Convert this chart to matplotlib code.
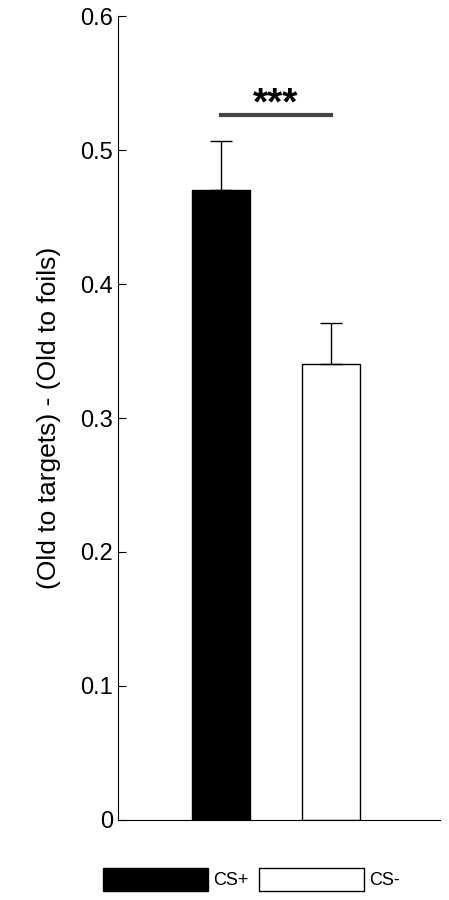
import matplotlib
matplotlib.use("Agg")
import matplotlib.pyplot as plt
from matplotlib.patches import Patch

plt.rcParams["font.family"] = ["Liberation Sans", "DejaVu Sans"]

# ---- Data ----
conditions = ["CS+", "CS-"]
means      = [0.47, 0.34]
errors     = [0.037, 0.031]
colors     = ["black", "white"]
positions  = [0.32, 0.66]
yticks     = [0, 0.1, 0.2, 0.3, 0.4, 0.5, 0.6]

fig = plt.figure(figsize=(4.49, 9.0), dpi=100)
ax = fig.add_axes([0.263, 0.089, 0.717, 0.893])

ax.bar(positions, means, width=0.18, color=colors, edgecolor="black", linewidth=1)
ax.errorbar(positions, means, yerr=[[0, 0], errors], fmt="none",
            ecolor="black", elinewidth=1, capsize=8, capthick=1)

# significance marker
ax.plot([positions[0], positions[1]], [0.526, 0.526], color="#444444", lw=3)
ax.text(sum(positions) / 2, 0.521, "***", ha="center", va="bottom",
        fontsize=28, fontweight="bold")

ax.set_xlim(0, 1)
ax.set_ylim(0, 0.6)
ax.set_yticks(yticks)
ax.set_yticklabels([f"{t:g}" for t in yticks], fontsize=17)
ax.set_xticks([])
ax.tick_params(axis="y", direction="in", length=6)
for s in ["top", "right"]:
    ax.spines[s].set_visible(False)
ax.set_ylabel("(Old to targets) - (Old to foils)", fontsize=19, labelpad=14)

handles = [Patch(facecolor=c, edgecolor="black", label=l)
           for c, l in zip(colors, conditions)]
fig.legend(handles=handles, loc="lower center", bbox_to_anchor=(0.56, -0.008),
           ncol=2, frameon=False, fontsize=13, handlelength=5.8,
           handleheight=1.6, columnspacing=0.6, handletextpad=0.3)

fig.savefig("out.png", dpi=100)
